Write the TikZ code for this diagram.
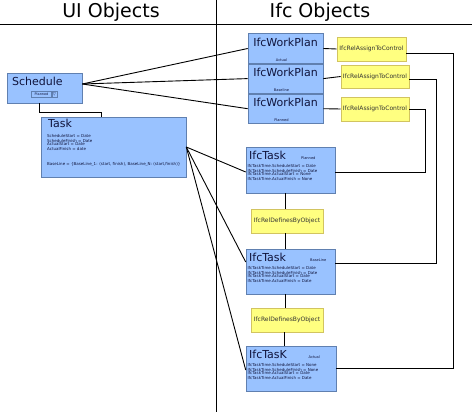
\documentclass[tikz,border=0pt]{standalone}
\usepackage{fontspec}
\setmainfont{DejaVu Sans}
\usepackage{tikz}
\usetikzlibrary{positioning, calc}

\definecolor{uiblue}{RGB}{153,194,255}
\definecolor{uiedge}{RGB}{96,128,176}
\definecolor{relyellow}{RGB}{255,255,128}
\definecolor{reledge}{RGB}{210,196,96}
\definecolor{uitext}{RGB}{16,20,60}

\newcommand{\fs}[1]{\fontsize{#1}{#1}\selectfont}

\begin{document}
\begin{tikzpicture}[x=1pt, y=-1pt, inner sep=0pt, line width=0.9pt,
    uibox/.style={rectangle, draw=uiedge, fill=uiblue, line width=0.6pt},
    relbox/.style={rectangle, draw=reledge, fill=relyellow, line width=0.6pt,
        font=\fs{6}, text=black!80},
    head/.style={font=\fs{11}, text=uitext},
    tag/.style={font=\fs{3.6}, text=uitext},
    attr/.style={font=\fs{4}, text=uitext, align=left, anchor=north west}]
    \useasboundingbox (0,0) rectangle (474,412);

    \node (UI) at (111,12) {\fs{19}UI Objects};
    \node (IFC) at (320,12) {\fs{19}Ifc Objects};
    \draw (0,24) -- (472,24);
    \draw (216,0) -- (216,412);

    \node (S) [uibox, minimum width=75, minimum height=30] at (44.5,88) {};
    \node (St) [head, anchor=base west] at ($(S.north west)+(5,13)$) {Schedule};
    \node (Sc) [rectangle, draw=uiedge, line width=0.4pt, minimum width=20, minimum height=6,
        font=\fs{3.4}, text=uitext] at (41.5,94) {Planned};
    \node (Sd) [right=0pt of Sc, rectangle, draw=uiedge, line width=0.4pt, minimum width=5,
        minimum height=6, font=\fs{4}, text=uitext] {▽};

    \node (T) [uibox, minimum width=145, minimum height=60] at (113.5,147) {};
    \node (Tt) [head, anchor=base west] at ($(T.north west)+(7,11)$) {Task};
    \node (Ta) [attr] at ($(T.north west)+(6,17.5)$) {ScheduleStart = Date\\[0.6pt]
        ScheduleFinish = Date\\[-0.6pt] ActualStart = Date\\[1pt] ActualFinish = date};
    \node (Tb) [attr] at ($(T.north west)+(6,45)$)
        {BaseLine = \{BaseLine\_1: (start, finish), BaseLine\_N: (start,finish)\}};

    \draw ([xshift=33pt]S.south west) -- ++(0,9) -| ([xshift=61pt]T.north west);

    \node (W1) [uibox, minimum width=75, minimum height=29.5] at (285.5,48.5) {};
    \node (W2) [below=0pt of W1, uibox, minimum width=75, minimum height=29.5] {};
    \node (W3) [below=0pt of W2, uibox, minimum width=75, minimum height=29.5] {};
    \node (W1t) [head, anchor=base] at ($(W1.north)+(0,13)$) {IfcWorkPlan};
    \node (W2t) [head, anchor=base] at ($(W2.north)+(0,13)$) {IfcWorkPlan};
    \node (W3t) [head, anchor=base] at ($(W3.north)+(0,13)$) {IfcWorkPlan};
    \node (W1l) [tag] at ($(W1.south)+(-4,-3.5)$) {Actual};
    \node (W2l) [tag] at ($(W2.south)+(-4,-3.5)$) {Baseline};
    \node (W3l) [tag] at ($(W3.south)+(-4,-3.5)$) {Planned};

    \node (R1) [relbox, minimum width=69, minimum height=24] at (371.5,49) {IfcRelAssignToControl};
    \node (R2) [relbox, minimum width=68, minimum height=23] at (375,76.5) {IfcRelAssignToControl};
    \node (R3) [relbox, minimum width=68, minimum height=24] at (375,109) {IfcRelAssignToControl};

    \draw (W1.east) -- (R1.west);
    \draw (W2.east) -- (R2.west);
    \draw (W3.east) -- (R3.west);

    \draw ([yshift=4pt]S.east) -- (W1.west);
    \draw ([yshift=4pt]S.east) -- (W2.west);
    \draw ([yshift=4pt]S.east) -- (W3.west);

    \node (P1) [uibox, minimum width=89, minimum height=46] at (290.5,170) {};
    \node (P1t) [head, anchor=base west] at ($(P1.north west)+(3,13)$) {IfcTask};
    \node (P1l) [tag] at ($(P1.north east)+(-27,11)$) {Planned};
    \node (P1a) [attr] at ($(P1.north west)+(1.5,17.5)$) {IfcTaskTime.ScheduleStart = Date\\[0.6pt]
        IfcTaskTime.ScheduleFinish = Date\\[-0.6pt] IfcTaskTime.ActualStart = None\\[1pt]
        IfcTaskTime.ActualFinish = None};

    \node (D1) [relbox, minimum width=72, minimum height=24] at (287,221) {IfcRelDefinesByObject};

    \node (P2) [uibox, minimum width=89, minimum height=45] at (290.5,271.5) {};
    \node (P2t) [head, anchor=base west] at ($(P2.north west)+(3,12.5)$) {IfcTask};
    \node (P2l) [tag] at ($(P2.north east)+(-17,11)$) {BaseLine};
    \node (P2a) [attr] at ($(P2.north west)+(1.5,17.5)$) {IfcTaskTime.ScheduleStart = Date\\[0.6pt]
        IfcTaskTime.ScheduleFinish = Date\\[-0.6pt] IfcTaskTime.ActualStart = Date\\[1pt]
        IfcTaskTime.ActualFinish = Date};

    \node (D2) [relbox, minimum width=72, minimum height=24] at (287,320) {IfcRelDefinesByObject};

    \node (P3) [uibox, minimum width=90, minimum height=45] at (291,368.5) {};
    \node (P3t) [head, anchor=base west] at ($(P3.north west)+(3,12.5)$) {IfcTasK};
    \node (P3l) [tag] at ($(P3.north east)+(-22,11)$) {Actual};
    \node (P3a) [attr] at ($(P3.north west)+(1.5,17.5)$) {IfcTaskTime.ScheduleStart = None\\[0.6pt]
        IfcTaskTime.ScheduleFinish = None\\[-0.6pt] IfcTaskTime.ActualStart = Date\\[1pt]
        IfcTaskTime.ActualFinish = Date};

    \draw ([xshift=-2pt]D1.north) -- ([xshift=-2pt]D1.north |- P1.south);
    \draw ([xshift=-2pt]D1.south) -- ([xshift=-2pt]D1.south |- P2.north);
    \draw ([xshift=-2pt]D2.north) -- ([xshift=-2pt]D2.north |- P2.south);
    \draw ([xshift=-3pt]D2.south) -- ([xshift=-3pt]D2.south |- P3.north);

    \draw (T.east) -- ([yshift=-2pt]P1.west);
    \draw (T.east) -- ([yshift=9.5pt]P2.west);
    \draw (T.east) -- ([yshift=-1.5pt]P3.west);

    \draw ([yshift=-4pt]R1.east) -- ++(47,0) |- (P3.east);
    \draw ([yshift=-2.5pt]R2.east) -- ++(27,0) |- ([yshift=8.5pt]P2.east);
    \draw (R3.east) -- ++(16,0) |- ([yshift=-2pt]P1.east);

\end{tikzpicture}
\end{document}
